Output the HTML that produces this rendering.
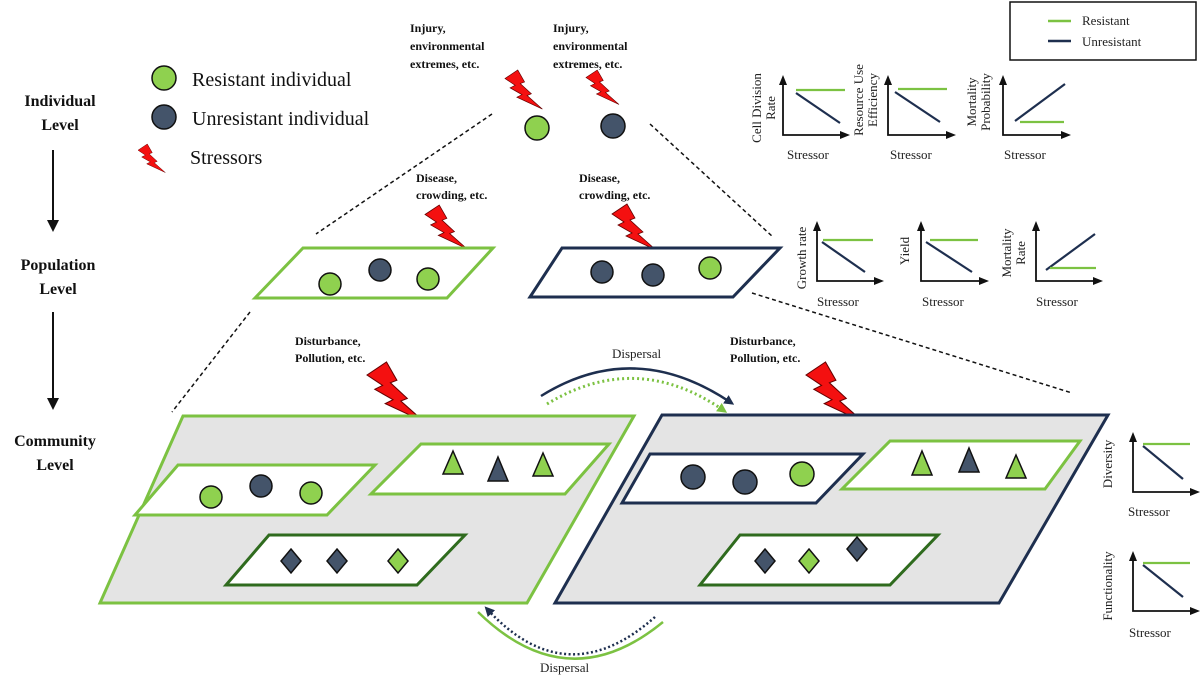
<!DOCTYPE html>
<html><head><meta charset="utf-8"><style>
body{margin:0;background:#fff}
svg{display:block}
.b{font-family:"Liberation Serif",serif;font-weight:bold;font-size:12px;fill:#111}
.s{font-family:"Liberation Serif",serif;font-size:13px;fill:#222}
.lv{font-family:"Liberation Serif",serif;font-weight:bold;font-size:16px;fill:#111;text-anchor:middle}
.lg{font-family:"Liberation Serif",serif;font-size:20px;fill:#111}
</style></head><body>
<svg width="1200" height="679" viewBox="0 0 1200 679" xmlns="http://www.w3.org/2000/svg">
<defs>
<polygon id="bolt" points="0,10 15,0 23,14 18,16 31,28 26,30 44,46 14,32 20,29 6,21 12,18" fill="#f41010" stroke="#600" stroke-width="0.8"/>
<marker id="ah" markerUnits="userSpaceOnUse" markerWidth="10" markerHeight="10" refX="5" refY="5" orient="auto-start-reverse"><path d="M0,1 L10,5 L0,9z" fill="#111"/></marker>
<marker id="ab" markerUnits="userSpaceOnUse" markerWidth="12" markerHeight="12" refX="6" refY="6" orient="auto"><path d="M0,0 L12,6 L0,12z" fill="#111"/></marker>
<marker id="an" markerUnits="userSpaceOnUse" markerWidth="10" markerHeight="10" refX="5" refY="5" orient="auto"><path d="M0,0 L10,5 L0,10z" fill="#1e2f4f"/></marker>
<marker id="ag" markerUnits="userSpaceOnUse" markerWidth="10" markerHeight="10" refX="5" refY="5" orient="auto"><path d="M0,0 L10,5 L0,10z" fill="#7cc242"/></marker>
</defs>
<!-- levels -->
<text class="lv" x="60" y="106">Individual</text><text class="lv" x="60" y="130">Level</text>
<line x1="53" y1="150" x2="53" y2="226" stroke="#111" stroke-width="2" marker-end="url(#ab)"/>
<text class="lv" x="58" y="270">Population</text><text class="lv" x="58" y="294">Level</text>
<line x1="53" y1="312" x2="53" y2="404" stroke="#111" stroke-width="2" marker-end="url(#ab)"/>
<text class="lv" x="55" y="446">Community</text><text class="lv" x="55" y="470">Level</text>
<!-- legend -->
<circle cx="164" cy="78" r="12" fill="#8fd14f" stroke="#111" stroke-width="1.5"/>
<text class="lg" x="192" y="86">Resistant individual</text>
<circle cx="164" cy="117" r="12" fill="#44546a" stroke="#111" stroke-width="1.5"/>
<text class="lg" x="192" y="125">Unresistant individual</text>
<use href="#bolt" transform="translate(138,144) scale(0.62)"/>
<text class="lg" x="190" y="164">Stressors</text>
<!-- individual -->
<text class="b" x="410" y="32">Injury,</text><text class="b" x="410" y="50">environmental</text><text class="b" x="410" y="68">extremes, etc.</text>
<text class="b" x="553" y="32">Injury,</text><text class="b" x="553" y="50">environmental</text><text class="b" x="553" y="68">extremes, etc.</text>
<use href="#bolt" transform="translate(505,70) scale(0.85)"/>
<use href="#bolt" transform="translate(586,70) scale(0.75)"/>
<circle cx="537" cy="128" r="12" fill="#8fd14f" stroke="#111" stroke-width="1.5"/>
<circle cx="613" cy="126" r="12" fill="#44546a" stroke="#111" stroke-width="1.5"/>
<g stroke="#111" stroke-width="1.5" stroke-dasharray="4,3" fill="none">
<line x1="492" y1="114" x2="316" y2="234"/><line x1="650" y1="124" x2="773" y2="237"/>
<line x1="250" y1="312" x2="172" y2="412"/><line x1="752" y1="293" x2="1072" y2="393"/>
</g>
<!-- population -->
<text class="b" x="416" y="182">Disease,</text><text class="b" x="416" y="199">crowding, etc.</text>
<text class="b" x="579" y="182">Disease,</text><text class="b" x="579" y="199">crowding, etc.</text>
<use href="#bolt" transform="translate(425,205) scale(0.95)"/>
<use href="#bolt" transform="translate(612,204) scale(1)"/>
<polygon points="303,248 493,248 447,298 255,298" fill="#fff" stroke="#7cc242" stroke-width="3"/>
<circle cx="330" cy="284" r="11" fill="#8fd14f" stroke="#111" stroke-width="1.5"/>
<circle cx="380" cy="270" r="11" fill="#44546a" stroke="#111" stroke-width="1.5"/>
<circle cx="428" cy="279" r="11" fill="#8fd14f" stroke="#111" stroke-width="1.5"/>
<polygon points="562,248 780,248 733,297 530,297" fill="#fff" stroke="#1e2f4f" stroke-width="3"/>
<circle cx="602" cy="272" r="11" fill="#44546a" stroke="#111" stroke-width="1.5"/>
<circle cx="653" cy="275" r="11" fill="#44546a" stroke="#111" stroke-width="1.5"/>
<circle cx="710" cy="268" r="11" fill="#8fd14f" stroke="#111" stroke-width="1.5"/>
<!-- community -->
<text class="b" x="295" y="345">Disturbance,</text><text class="b" x="295" y="362">Pollution, etc.</text>
<text class="b" x="730" y="345">Disturbance,</text><text class="b" x="730" y="362">Pollution, etc.</text>
<use href="#bolt" transform="translate(367,362) scale(1.3)"/>
<use href="#bolt" transform="translate(806,362) scale(1.3)"/>
<text class="s" x="612" y="358">Dispersal</text>
<path d="M541,396 Q634,338 730,402" fill="none" stroke="#1e2f4f" stroke-width="2.5" marker-end="url(#an)"/>
<path d="M547,404 Q636,350 723,410" fill="none" stroke="#7cc242" stroke-width="3" stroke-dasharray="2,3" marker-end="url(#ag)"/>
<polygon points="183,416 634,416 527,603 100,603" fill="#e4e4e4" stroke="#7cc242" stroke-width="3"/>
<polygon points="662,415 1108,415 999,603 555,603" fill="#e4e4e4" stroke="#1e2f4f" stroke-width="3"/>
<!-- left plate subs -->
<polygon points="178,465 375,465 327,515 135,515" fill="#fff" stroke="#7cc242" stroke-width="3"/>
<circle cx="211" cy="497" r="11" fill="#8fd14f" stroke="#111" stroke-width="1.5"/>
<circle cx="261" cy="486" r="11" fill="#44546a" stroke="#111" stroke-width="1.5"/>
<circle cx="311" cy="493" r="11" fill="#8fd14f" stroke="#111" stroke-width="1.5"/>
<polygon points="421,444 609,444 565,494 371,494" fill="#fff" stroke="#7cc242" stroke-width="3"/>
<polygon points="453,451 463,474 443,474" fill="#8fd14f" stroke="#111" stroke-width="1.5"/>
<polygon points="498,457 508,481 488,481" fill="#44546a" stroke="#111" stroke-width="1.5"/>
<polygon points="543,453 553,476 533,476" fill="#8fd14f" stroke="#111" stroke-width="1.5"/>
<polygon points="269,535 465,535 417,585 226,585" fill="#fff" stroke="#2f6b1e" stroke-width="3"/>
<polygon points="291,549 301,561 291,573 281,561" fill="#44546a" stroke="#111" stroke-width="1.5"/>
<polygon points="337,549 347,561 337,573 327,561" fill="#44546a" stroke="#111" stroke-width="1.5"/>
<polygon points="398,549 408,561 398,573 388,561" fill="#8fd14f" stroke="#111" stroke-width="1.5"/>
<!-- right plate subs -->
<polygon points="650,454 863,454 816,503 622,503" fill="#fff" stroke="#1e2f4f" stroke-width="3"/>
<circle cx="693" cy="477" r="12" fill="#44546a" stroke="#111" stroke-width="1.5"/>
<circle cx="745" cy="482" r="12" fill="#44546a" stroke="#111" stroke-width="1.5"/>
<circle cx="802" cy="474" r="12" fill="#8fd14f" stroke="#111" stroke-width="1.5"/>
<polygon points="890,441 1080,441 1045,489 842,489" fill="#fff" stroke="#7cc242" stroke-width="3"/>
<polygon points="922,451 932,475 912,475" fill="#8fd14f" stroke="#111" stroke-width="1.5"/>
<polygon points="969,448 979,472 959,472" fill="#44546a" stroke="#111" stroke-width="1.5"/>
<polygon points="1016,455 1026,478 1006,478" fill="#8fd14f" stroke="#111" stroke-width="1.5"/>
<polygon points="740,535 938,535 890,585 700,585" fill="#fff" stroke="#2f6b1e" stroke-width="3"/>
<polygon points="765,549 775,561 765,573 755,561" fill="#44546a" stroke="#111" stroke-width="1.5"/>
<polygon points="809,549 819,561 809,573 799,561" fill="#8fd14f" stroke="#111" stroke-width="1.5"/>
<polygon points="857,537 867,549 857,561 847,549" fill="#44546a" stroke="#111" stroke-width="1.5"/>
<!-- bottom dispersal -->
<path d="M655,617 Q567,695 488,610" fill="none" stroke="#1e2f4f" stroke-width="2.5" stroke-dasharray="2,2.5" marker-end="url(#an)"/>
<path d="M663,622 Q568,700 478,612" fill="none" stroke="#7cc242" stroke-width="2.5"/>
<text class="s" x="540" y="672">Dispersal</text>
<!-- legend box -->
<rect x="1010" y="2" width="186" height="58" fill="#fff" stroke="#111" stroke-width="1.5"/>
<line x1="1048" y1="21" x2="1071" y2="21" stroke="#7cc242" stroke-width="2.5"/>
<text class="s" x="1082" y="25">Resistant</text>
<line x1="1048" y1="41" x2="1071" y2="41" stroke="#1e2f4f" stroke-width="2.5"/>
<text class="s" x="1082" y="46">Unresistant</text>
<!-- graphs -->
<g stroke="#111" stroke-width="1.8" fill="none">
<path d="M783,80 V135 H845" marker-start="url(#ah)" marker-end="url(#ah)"/>
<path d="M888,80 V135 H951" marker-start="url(#ah)" marker-end="url(#ah)"/>
<path d="M1003,80 V135 H1066" marker-start="url(#ah)" marker-end="url(#ah)"/>
<path d="M817,226 V281 H879" marker-start="url(#ah)" marker-end="url(#ah)"/>
<path d="M921,226 V281 H984" marker-start="url(#ah)" marker-end="url(#ah)"/>
<path d="M1036,226 V281 H1098" marker-start="url(#ah)" marker-end="url(#ah)"/>
<path d="M1133,437 V492 H1195" marker-start="url(#ah)" marker-end="url(#ah)"/>
<path d="M1133,556 V611 H1195" marker-start="url(#ah)" marker-end="url(#ah)"/>
</g>
<g stroke-width="2.2">
<line x1="796" y1="90" x2="845" y2="90" stroke="#7cc242"/><line x1="796" y1="93" x2="840" y2="123" stroke="#1e2f4f"/>
<line x1="898" y1="89" x2="947" y2="89" stroke="#7cc242"/><line x1="895" y1="92" x2="940" y2="122" stroke="#1e2f4f"/>
<line x1="1015" y1="121" x2="1065" y2="84" stroke="#1e2f4f"/><line x1="1020" y1="122" x2="1064" y2="122" stroke="#7cc242"/>
<line x1="823" y1="240" x2="873" y2="240" stroke="#7cc242"/><line x1="822" y1="242" x2="865" y2="272" stroke="#1e2f4f"/>
<line x1="930" y1="240" x2="978" y2="240" stroke="#7cc242"/><line x1="926" y1="242" x2="972" y2="272" stroke="#1e2f4f"/>
<line x1="1046" y1="270" x2="1095" y2="234" stroke="#1e2f4f"/><line x1="1050" y1="268" x2="1096" y2="268" stroke="#7cc242"/>
<line x1="1143" y1="444" x2="1190" y2="444" stroke="#7cc242"/><line x1="1143" y1="446" x2="1183" y2="479" stroke="#1e2f4f"/>
<line x1="1143" y1="563" x2="1190" y2="563" stroke="#7cc242"/><line x1="1143" y1="565" x2="1183" y2="597" stroke="#1e2f4f"/>
</g>
<text class="s" x="787" y="159">Stressor</text><text class="s" x="890" y="159">Stressor</text><text class="s" x="1004" y="159">Stressor</text>
<text class="s" x="817" y="306">Stressor</text><text class="s" x="922" y="306">Stressor</text><text class="s" x="1036" y="306">Stressor</text>
<text class="s" x="1128" y="516">Stressor</text><text class="s" x="1129" y="637">Stressor</text>
<text class="s" transform="translate(761,108) rotate(-90)" text-anchor="middle">Cell Division</text>
<text class="s" transform="translate(775,108) rotate(-90)" text-anchor="middle">Rate</text>
<text class="s" transform="translate(863,100) rotate(-90)" text-anchor="middle">Resource Use</text>
<text class="s" transform="translate(877,100) rotate(-90)" text-anchor="middle">Efficiency</text>
<text class="s" transform="translate(976,102) rotate(-90)" text-anchor="middle">Mortality</text>
<text class="s" transform="translate(990,102) rotate(-90)" text-anchor="middle">Probability</text>
<text class="s" transform="translate(806,258) rotate(-90)" text-anchor="middle">Growth rate</text>
<text class="s" transform="translate(909,251) rotate(-90)" text-anchor="middle">Yield</text>
<text class="s" transform="translate(1011,253) rotate(-90)" text-anchor="middle">Mortality</text>
<text class="s" transform="translate(1025,253) rotate(-90)" text-anchor="middle">Rate</text>
<text class="s" transform="translate(1112,464) rotate(-90)" text-anchor="middle">Diversity</text>
<text class="s" transform="translate(1112,586) rotate(-90)" text-anchor="middle">Functionality</text>
</svg>
</body></html>
